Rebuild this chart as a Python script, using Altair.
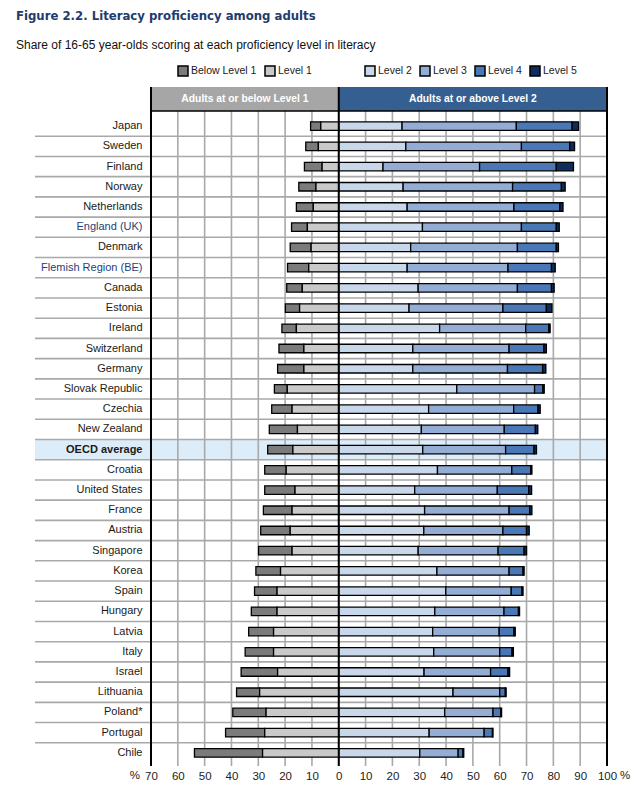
import altair as alt
import pandas as pd

countries = ["Japan", "Sweden", "Finland", "Norway", "Netherlands", "England (UK)", "Denmark",
             "Flemish Region (BE)", "Canada", "Estonia", "Ireland", "Switzerland", "Germany",
             "Slovak Republic", "Czechia", "New Zealand", "OECD average", "Croatia", "United States",
             "France", "Austria", "Singapore", "Korea", "Spain", "Hungary", "Latvia", "Italy",
             "Israel", "Lithuania", "Poland*", "Portugal", "Chile"]
below_l1 = [3.8, 4.7, 6.6, 6.4, 6.3, 5.9, 7.8, 7.9, 5.8, 5.3, 5.4, 9.3, 9.8, 4.8, 7.6, 10.5,
            9.4, 8.0, 11.3, 10.7, 11.0, 12.5, 9.2, 8.4, 9.6, 9.3, 10.6, 13.6, 8.6, 12.4, 14.6, 25.4]
level1 = [6.7, 7.6, 6.2, 8.5, 9.5, 11.7, 10.3, 11.2, 13.6, 14.6, 15.8, 13.0, 13.0, 19.2, 17.4, 15.4,
          17.1, 19.6, 16.3, 17.4, 18.1, 17.4, 21.7, 23.0, 23.0, 24.3, 24.3, 22.8, 29.5, 27.1, 27.6, 28.4]
level2 = [23.6, 25.0, 16.5, 24.0, 25.5, 31.2, 26.8, 25.5, 29.6, 26.2, 37.6, 27.6, 27.6, 44.0, 33.5, 30.8,
          31.3, 36.8, 28.3, 32.0, 31.7, 29.6, 36.6, 39.9, 35.8, 35.0, 35.4, 31.8, 42.6, 39.5, 33.7, 30.2]
level3 = [42.6, 43.1, 36.0, 40.8, 39.8, 36.9, 39.8, 37.6, 37.0, 35.0, 32.1, 35.9, 35.3, 29.0, 31.7, 30.9,
          30.9, 27.7, 30.8, 31.5, 29.5, 29.8, 26.9, 24.4, 25.8, 24.8, 24.6, 24.8, 17.4, 18.0, 20.5, 14.3]
level4 = [20.8, 18.0, 28.6, 18.2, 17.1, 13.0, 14.5, 16.2, 12.7, 16.2, 8.6, 13.0, 13.1, 3.1, 9.1, 11.6,
          10.6, 7.1, 11.7, 7.7, 8.8, 9.7, 5.2, 4.0, 5.4, 5.5, 4.6, 6.5, 2.1, 2.9, 3.1, 1.8]
level5 = [2.4, 1.8, 6.4, 1.4, 1.2, 1.1, 0.8, 1.4, 1.0, 2.1, 0.5, 0.9, 1.2, 0.5, 0.8, 0.9,
          0.9, 0.4, 1.1, 0.8, 1.0, 0.9, 0.4, 0.4, 0.4, 0.5, 0.5, 0.6, 0.3, 0.3, 0.2, 0.3]

left_levels = ["Below Level 1", "Level 1"]
right_levels = ["Level 2", "Level 3", "Level 4", "Level 5"]
left_colors = ["#7b7b7b", "#c9c9c9"]
right_colors = ["#c9d7ea", "#93add5", "#4a77b6", "#0e2c5e"]

x_ticks = [-70, -60, -50, -40, -30, -20, -10, 0, 10, 20, 30, 40, 50, 60, 70, 80, 90, 100]
frame_x = [-70, 0, 100]
header_labels = ["Adults at or below Level 1", "Adults at or above Level 2"]
header_from = [-70, 0]
header_to = [0, 100]
header_colors = ["#a6a6a6", "#365f91"]
highlight_rows = ["OECD average"]
blue_labels = ["England (UK)", "Flemish Region (BE)"]
title_text = "Figure 2.2. Literacy proficiency among adults"
subtitle_text = "Share of 16-65 year-olds scoring at each proficiency level in literacy"

W, H = 456, 652
FONT = "Liberation Sans"
NARROW = "Liberation Sans Narrow, Arial Narrow, DejaVu Sans Condensed, Liberation Sans, sans-serif"
GRID = "#a9a9a9"

# ---- data tables ----
left_rows, right_rows = [], []
for i, c in enumerate(countries):
    b, l1 = below_l1[i], level1[i]
    left_rows.append({"country": c, "level": "Below Level 1", "start": -(b + l1), "end": -l1})
    left_rows.append({"country": c, "level": "Level 1", "start": -l1, "end": 0})
    acc = 0.0
    for lev, vals in zip(right_levels, [level2, level3, level4, level5]):
        v = vals[i]
        right_rows.append({"country": c, "level": lev, "start": acc, "end": acc + v})
        acc += v
left_df = pd.DataFrame(left_rows)
right_df = pd.DataFrame(right_rows)

x_scale = alt.Scale(domain=[-70, 100], nice=False, zero=False)
y_scale = alt.Scale(domain=countries, range=[5, H], paddingInner=0, paddingOuter=0)

blue_test = " || ".join([f"datum.value == '{b}'" for b in blue_labels])
y_axis = alt.Axis(
    title=None, ticks=False, domain=False, labelPadding=9, labelFontSize=11, labelFont=FONT,
    labelLimit=200,
    labelColor=alt.condition(blue_test, alt.value("#1f3f7a"), alt.value("#1a1a1a")),
    labelFontWeight=alt.condition(f"datum.value == '{highlight_rows[0]}'", alt.value("bold"), alt.value("normal")),
)
x_axis = alt.Axis(
    values=x_ticks, title=None, grid=False, domain=False, ticks=False, labelPadding=7,
    labelFontSize=11.5, labelFont=FONT, labelColor="#222222", labelExpr="abs(datum.value)",
    labelFlush=False, labelOverlap=False,
)

def Y(**kw):
    return alt.Y("country:N", scale=y_scale, axis=y_axis, sort=None, **kw)

def X(field, **kw):
    return alt.X(field, scale=x_scale, axis=x_axis, **kw)

def legend(x0):
    return alt.Legend(orient="none", legendX=x0, legendY=-46, direction="horizontal",
                      title=None, symbolType="square", symbolSize=100,
                      symbolStrokeColor="black", symbolStrokeWidth=1.5,
                      labelFontSize=10.5, labelFont=FONT, labelColor="#1a1a1a",
                      columnPadding=5, labelOffset=2, padding=0)

highlight = alt.Chart(pd.DataFrame({"country": highlight_rows})).mark_rect(color="#dcecf8").encode(
    y=Y(), x=alt.value(-116), x2=alt.value(W)
)
row_rules = alt.Chart(pd.DataFrame({"country": countries[:-1]})).mark_rule(
    color=GRID, strokeWidth=1.6
).encode(y=Y(bandPosition=1), x=alt.value(-116), x2=alt.value(W))

vgrid = alt.Chart(pd.DataFrame({"v": x_ticks})).mark_rule(color=GRID, strokeWidth=1.6).encode(
    x=X("v:Q"), y=alt.value(0), y2=alt.value(H + 3)
)

left_bars = alt.Chart(left_df).mark_bar(stroke="black", strokeWidth=1.3, size=8.5).encode(
    y=Y(), x=X("start:Q"), x2="end:Q",
    color=alt.Color("level:N", scale=alt.Scale(domain=left_levels, range=left_colors),
                    legend=legend(26)),
)
right_bars = alt.Chart(right_df).mark_bar(stroke="black", strokeWidth=1.3, size=8.5).encode(
    y=Y(), x=X("start:Q"), x2="end:Q",
    fill=alt.Fill("level:N", scale=alt.Scale(domain=right_levels, range=right_colors),
                  legend=legend(213)),
)

header_layers = []
for lab, a, b, col in zip(header_labels, header_from, header_to, header_colors):
    hdf = pd.DataFrame({"label": [lab], "from": [a], "to": [b], "mid": [(a + b) / 2]})
    header_layers.append(
        alt.Chart(hdf).mark_rect(color=col).encode(
            x=X("from:Q"), x2="to:Q", y=alt.value(-24), y2=alt.value(0))
    )
    header_layers.append(
        alt.Chart(hdf).mark_text(color="white", fontWeight="bold", fontSize=10.3, font=FONT,
                                 baseline="middle").encode(
            x=X("mid:Q"), y=alt.value(-12), text="label:N")
    )

frame = alt.Chart(pd.DataFrame({"v": frame_x})).mark_rule(color="black", strokeWidth=2).encode(
    x=X("v:Q"), y=alt.value(-24), y2=alt.value(H + 3)
)
top_line = alt.Chart(pd.DataFrame({"a": [frame_x[0]], "b": [frame_x[-1]]})).mark_rule(
    color="black", strokeWidth=1.5).encode(x=X("a:Q"), x2="b:Q", y=alt.value(0))

pct_left = alt.Chart(pd.DataFrame({"v": [x_ticks[0]], "t": ["%"]})).mark_text(
    align="right", dx=-11, baseline="middle", fontSize=11.5, font=FONT, color="#222222"
).encode(x=X("v:Q"), y=alt.value(H + 13), text="t:N")
pct_right = alt.Chart(pd.DataFrame({"v": [x_ticks[-1]], "t": ["%"]})).mark_text(
    align="left", dx=13, baseline="middle", fontSize=11.5, font=FONT, color="#222222"
).encode(x=X("v:Q"), y=alt.value(H + 13), text="t:N")

title = alt.Chart(pd.DataFrame({"t": [title_text]})).mark_text(
    align="left", baseline="alphabetic", fontSize=13, fontWeight="bold", font=NARROW, color="#1f3c6e"
).encode(x=alt.value(-135), y=alt.value(-91), text="t:N")
subtitle = alt.Chart(pd.DataFrame({"t": [subtitle_text]})).mark_text(
    align="left", baseline="alphabetic", fontSize=12, font=FONT, color="#111111"
).encode(x=alt.value(-135), y=alt.value(-62), text="t:N")

chart = alt.layer(
    highlight, row_rules, vgrid, left_bars, right_bars, *header_layers, frame, top_line,
    pct_left, pct_right, title, subtitle
).properties(
    width=W, height=H,
    padding={"left": 143, "top": 103, "right": 27, "bottom": 18},
    autosize=alt.AutoSizeParams(type="none"),
).configure_view(stroke=None)

chart.save("out.html", embed_options={"renderer": "svg", "actions": False})
